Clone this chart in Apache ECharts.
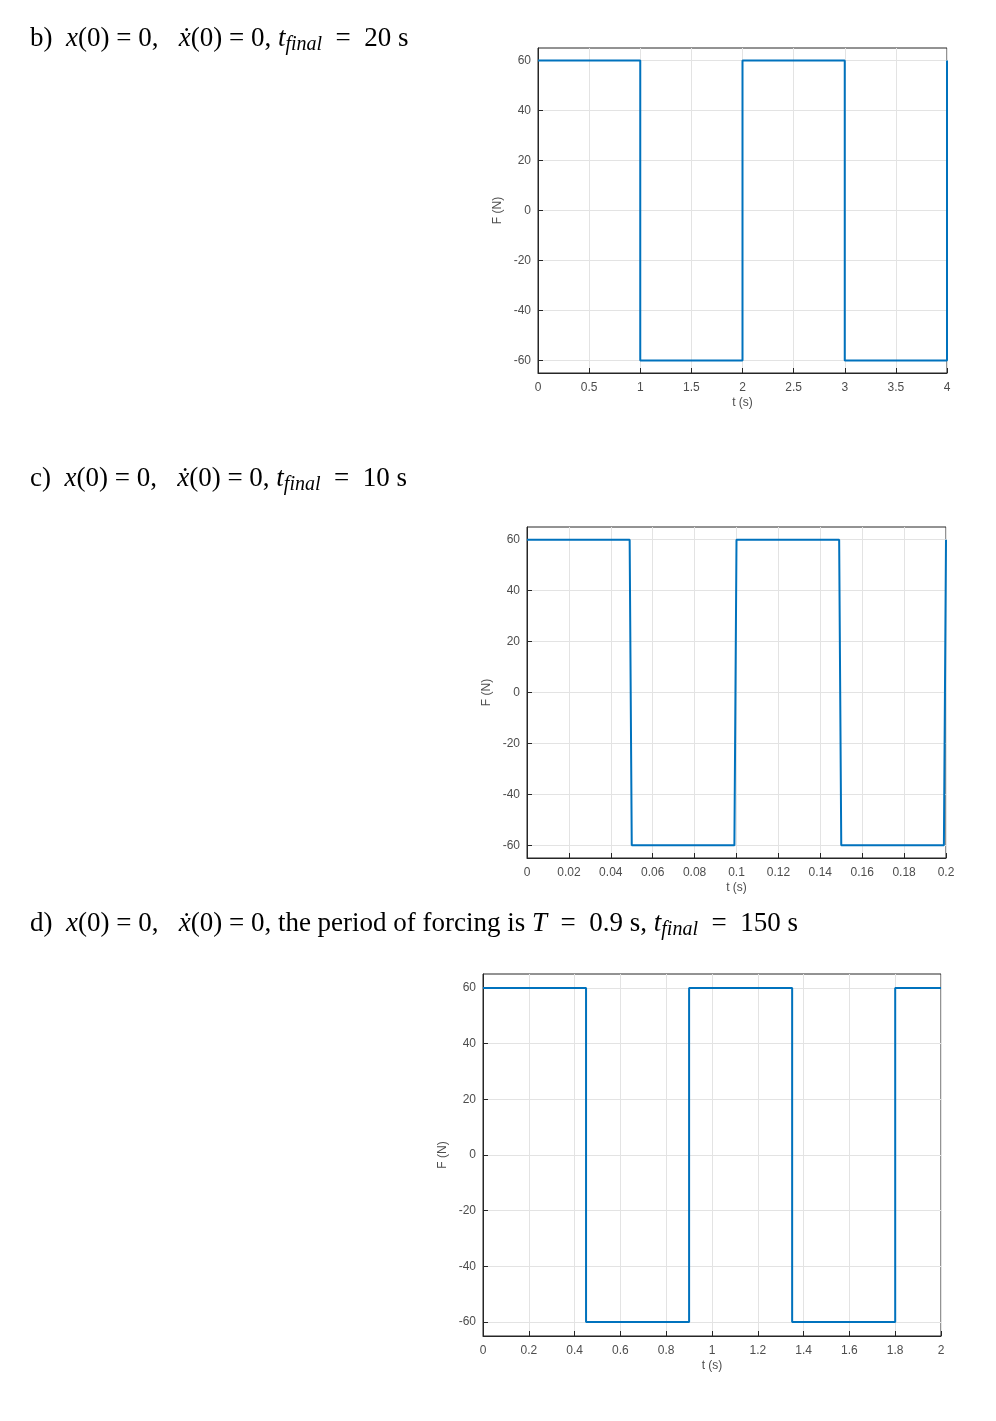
<!DOCTYPE html>
<html><head><meta charset="utf-8">
<script src="https://cdn.jsdelivr.net/npm/echarts@6/dist/echarts.min.js"></script>
<style>html,body{margin:0;background:#fff}#c{width:996px;height:1421px}</style>
</head><body><div id="c"></div>
<script>
// Data: step points [t, F]
const dataB = [[0,60],[1,60],[1,-60],[2,-60],[2,60],[3,60],[3,-60],[4,-60],[4,60]];
const dataC = [[0,60],[0.049,60],[0.05,-60],[0.099,-60],[0.1,60],[0.149,60],[0.15,-60],[0.199,-60],[0.2,60]];
const dataD = [[0,60],[0.45,60],[0.45,-60],[0.9,-60],[0.9,60],[1.35,60],[1.35,-60],[1.8,-60],[1.8,60],[2,60]];
const yTicks = [-60,-40,-20,0,20,40,60];
const xMaxB = 4, xIntB = 0.5;
const xMaxC = 0.2, xIntC = 0.02;
const xMaxD = 2, xIntD = 0.2;

const ch = echarts.init(document.getElementById('c'));
const grids = [
  {left:538,right:49,top:48,height:325},
  {left:527,right:50,top:527,height:331},
  {left:483,right:55,top:974,height:362}
];
const xs = [[xMaxB,xIntB],[xMaxC,xIntC],[xMaxD,xIntD]];
const datas = [dataB,dataC,dataD];
const lab = {color:'#4d4d4d',fontSize:12,fontFamily:'Liberation Sans'};
const rich = {
  n:{fontFamily:'Liberation Serif',fontSize:27,fontWeight:'normal',color:'#000'},
  i:{fontFamily:'Liberation Serif',fontSize:27,fontWeight:'normal',fontStyle:'italic',color:'#000'},
  s:{fontFamily:'Liberation Serif',fontSize:20,fontWeight:'normal',fontStyle:'italic',color:'#000',padding:[12,0,0,0]}
};
const titles = [
  {top:18,text:'{n|b)  }{i|x}{n|(0) = 0,   }{i|ẋ}{n|(0) = 0, }{i|t}{s|final}{n|  =  20 s}'},
  {top:458,text:'{n|c)  }{i|x}{n|(0) = 0,   }{i|ẋ}{n|(0) = 0, }{i|t}{s|final}{n|  =  10 s}'},
  {top:903,text:'{n|d)  }{i|x}{n|(0) = 0,   }{i|ẋ}{n|(0) = 0, the period of forcing is }{i|T}{n|  =  0.9 s, }{i|t}{s|final}{n|  =  150 s}'}
].map(t=>({left:25,top:t.top,text:t.text,textStyle:{rich,fontWeight:'normal'}}));

ch.setOption({
  animation:false,
  title:titles,
  grid:grids.map(g=>Object.assign({show:true,borderColor:'#262626',borderWidth:1,backgroundColor:'#fff'},g)),
  xAxis:xs.map((x,i)=>({type:'value',gridIndex:i,min:0,max:x[0],interval:x[1],
    name:'t (s)',nameLocation:'middle',nameGap:24,nameTextStyle:lab,
    axisLine:{onZero:false,lineStyle:{color:'#262626'}},axisTick:{inside:true,lineStyle:{color:'#262626'}},
    axisLabel:Object.assign({margin:9},lab),
    splitLine:{show:true,lineStyle:{color:'#e3e3e3'}}})),
  yAxis:grids.map((g,i)=>({type:'value',gridIndex:i,min:-65,max:65,
    name:'F (N)',nameLocation:'middle',nameGap:34,nameRotate:90,nameTextStyle:lab,
    axisLine:{show:true,onZero:false,lineStyle:{color:'#262626'}},
    axisTick:{show:true,inside:true,customValues:yTicks,lineStyle:{color:'#262626'}},
    axisLabel:Object.assign({customValues:yTicks,margin:7},lab),
    splitLine:{show:false}})),
  series:datas.map((d,i)=>({type:'line',xAxisIndex:i,yAxisIndex:i,data:d,showSymbol:false,
    lineStyle:{color:'#0072BD',width:2},
    markLine:{silent:true,symbol:'none',label:{show:false},lineStyle:{color:'#e3e3e3',type:'solid',width:1},
      data:yTicks.map(v=>({yAxis:v})),z:0}}))
});
</script></body></html>
